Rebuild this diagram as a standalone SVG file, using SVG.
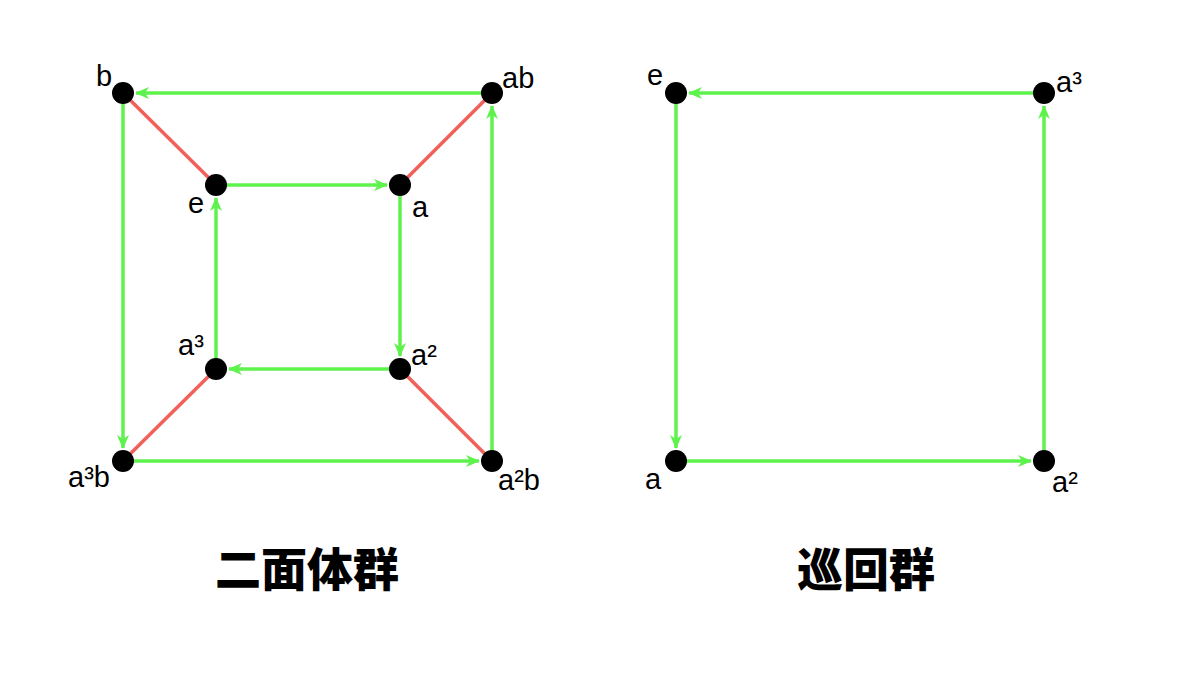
<svg xmlns="http://www.w3.org/2000/svg" width="1200" height="675" viewBox="0 0 1200 675">
<defs>
<marker id="arr" markerWidth="14" markerHeight="12" refX="13" refY="6" orient="auto" markerUnits="userSpaceOnUse">
<path d="M0,0 L14,6 L0,12 L4,6 z" fill="#5ef24c"/>
</marker>
<style>
.g{stroke:#5ef24c;stroke-width:3.5;fill:none}
.r{stroke:#f2605a;stroke-width:3.5;fill:none}
.n{fill:#000}
.l{font-family:"Liberation Sans",Arial,sans-serif;font-size:29px;fill:#000}
.t{font-family:"Noto Sans CJK JP","Noto Sans CJK SC",sans-serif;font-size:46px;font-weight:900;fill:#000;text-anchor:middle}
</style>
</defs>
<rect width="1200" height="675" fill="#fff"/>
<g id="connectors">
<line class="r" x1="123" y1="93" x2="216" y2="185"/>
<line class="r" x1="492" y1="93" x2="400" y2="185"/>
<line class="r" x1="123" y1="461" x2="216" y2="369"/>
<line class="r" x1="492" y1="461" x2="400" y2="369"/>
<line class="g" x1="492" y1="93" x2="136" y2="93" marker-end="url(#arr)"/>
<line class="g" x1="123" y1="93" x2="123" y2="448" marker-end="url(#arr)"/>
<line class="g" x1="123" y1="461" x2="479" y2="461" marker-end="url(#arr)"/>
<line class="g" x1="492" y1="461" x2="492" y2="106" marker-end="url(#arr)"/>
<line class="g" x1="216" y1="185" x2="387" y2="185" marker-end="url(#arr)"/>
<line class="g" x1="400" y1="185" x2="400" y2="356" marker-end="url(#arr)"/>
<line class="g" x1="400" y1="369" x2="229" y2="369" marker-end="url(#arr)"/>
<line class="g" x1="216" y1="369" x2="216" y2="198" marker-end="url(#arr)"/>
<line class="g" x1="1044" y1="93" x2="689" y2="93" marker-end="url(#arr)"/>
<line class="g" x1="676" y1="93" x2="676" y2="448" marker-end="url(#arr)"/>
<line class="g" x1="676" y1="461" x2="1031" y2="461" marker-end="url(#arr)"/>
<line class="g" x1="1044" y1="461" x2="1044" y2="106" marker-end="url(#arr)"/>
</g>
<g id="d-b"><circle class="n" cx="123" cy="93" r="11"/><text class="l" x="96" y="86">b</text></g>
<g id="d-ab"><circle class="n" cx="492" cy="93" r="11"/><text class="l" x="502" y="88">ab</text></g>
<g id="d-a3b"><circle class="n" cx="123" cy="461" r="11"/><text class="l" x="68" y="487">a³b</text></g>
<g id="d-a2b"><circle class="n" cx="492" cy="461" r="11"/><text class="l" x="498" y="490">a²b</text></g>
<g id="d-e"><circle class="n" cx="216" cy="185" r="11"/><text class="l" x="188" y="213">e</text></g>
<g id="d-a"><circle class="n" cx="400" cy="185" r="11"/><text class="l" x="412" y="217">a</text></g>
<g id="d-a3"><circle class="n" cx="216" cy="369" r="11"/><text class="l" x="178" y="355">a³</text></g>
<g id="d-a2"><circle class="n" cx="400" cy="369" r="11"/><text class="l" x="411" y="365">a²</text></g>
<g id="c-e"><circle class="n" cx="676" cy="93" r="11"/><text class="l" x="647" y="85">e</text></g>
<g id="c-a3"><circle class="n" cx="1044" cy="93" r="11"/><text class="l" x="1056" y="92">a³</text></g>
<g id="c-a"><circle class="n" cx="676" cy="461" r="11"/><text class="l" x="645" y="489">a</text></g>
<g id="c-a2"><circle class="n" cx="1044" cy="461" r="11"/><text class="l" x="1052" y="492">a²</text></g>
<text class="t" x="307" y="586">二面体群</text>
<text class="t" x="866" y="586">巡回群</text>
</svg>
